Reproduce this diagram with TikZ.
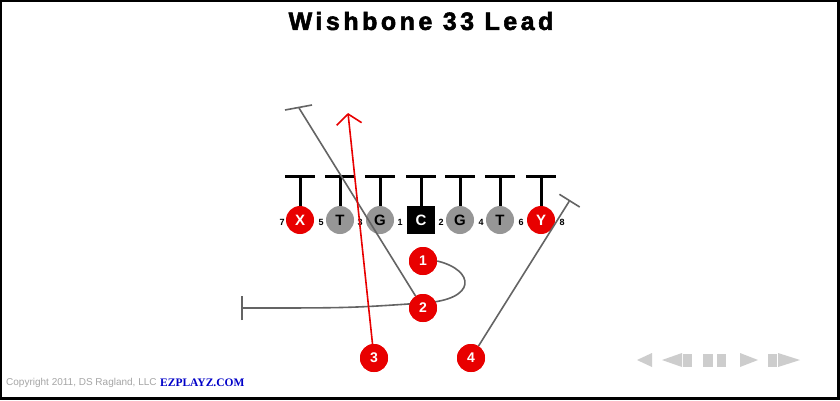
\documentclass[tikz,border=0pt]{standalone}
\usepackage{fontspec}
\setmainfont{Liberation Sans}
\newfontfamily\titlefont[LetterSpace=14,FakeBold=2.2]{Liberation Sans}
\newfontfamily\serifbold{Liberation Serif}
\usepackage{tikz}
\usetikzlibrary{positioning,arrows.meta}

\definecolor{playred}{RGB}{232,0,0}
\definecolor{linegray}{RGB}{150,150,150}
\definecolor{routegray}{RGB}{100,100,100}
\definecolor{iconfill}{RGB}{205,205,205}
\definecolor{copygray}{RGB}{165,165,165}
\definecolor{siteblue}{RGB}{0,0,200}

\tikzset{
  lineman/.style={circle, fill=linegray, minimum size=28pt, inner sep=0pt, font=\fontsize{15}{15}\selectfont\bfseries},
  receiver/.style={circle, fill=playred, text=white, minimum size=28pt, inner sep=0pt, font=\fontsize{15}{15}\selectfont\bfseries},
  center/.style={rectangle, fill=black, text=white, minimum size=28pt, inner sep=0pt, font=\fontsize{15}{15}\selectfont\bfseries},
  back/.style={circle, fill=playred, text=white, minimum size=28pt, inner sep=0pt, font=\fontsize{14}{14}\selectfont\bfseries},
  gapnum/.style={font=\fontsize{9}{9}\selectfont\bfseries, inner sep=0pt},
  blockline/.style={line width=3pt, -{Bar[width=30pt,line width=3pt]}},
  graybuild/.style={routegray, line width=1.6pt, -{Bar[width=24pt,line width=1.6pt]}},
  grayplain/.style={routegray, line width=1.6pt},
  redroute/.style={playred, line width=1.6pt, -{Straight Barb[length=10pt,width=25pt,line width=1.6pt]}},
  icon/.style={fill=iconfill, draw=none}
}

\begin{document}
\begin{tikzpicture}[x=1pt,y=-1pt]
  \useasboundingbox (0,0) rectangle (840,400);
  % frame
  \fill[black] (0,0) rectangle (840,400);
  \fill[white] (2,2) rectangle (837,397);

  % title
  \node (title) at (421,21) {\titlefont\fontsize{25}{25}\selectfont\bfseries Wishbone 33 Lead};

  % block ends
  \coordinate (kX) at (300,175);
  \coordinate (kLT) at (340,175);
  \coordinate (kLG) at (380,175);
  \coordinate (kC) at (421,175);
  \coordinate (kRG) at (460,175);
  \coordinate (kRT) at (500,175);
  \coordinate (kY) at (541,175);
  \coordinate (leadEnd) at (299,108);
  \coordinate (leadBarL) at (285,110);
  \coordinate (leadBarR) at (312,105);
  \coordinate (kickEnd) at (241,308);
  \coordinate (loopEnd) at (570,200);
  \coordinate (diveEnd) at (348,113);

  % players
  \node[receiver] (pX) at (300,220) {X};
  \node[lineman] (pLT) at (340,220) {T};
  \node[lineman] (pLG) at (380,220) {G};
  \node[center] (pC) at (421,220) {C};
  \node[lineman] (pRG) at (460,220) {G};
  \node[lineman] (pRT) at (500,220) {T};
  \node[receiver] (pY) at (541,220) {Y};

  \node[back] (b1) at (423,261) {1};
  \node[back] (b2) at (423,308) {2};
  \node[back] (b3) at (374,358) {3};
  \node[back] (b4) at (471,358) {4};

  % hole numbers
  \node[gapnum] (h7) at (282,222) {7};
  \node[gapnum] (h5) at (321,222) {5};
  \node[gapnum] (h3) at (360,222) {3};
  \node[gapnum] (h1) at (400,222) {1};
  \node[gapnum] (h2) at (441,222) {2};
  \node[gapnum] (h4) at (481,222) {4};
  \node[gapnum] (h6) at (521,222) {6};
  \node[gapnum] (h8) at (562,222) {8};

  % blocks
  \draw[blockline] (pX) -- (kX);
  \draw[blockline] (pLT) -- (kLT);
  \draw[blockline] (pLG) -- (kLG);
  \draw[blockline] (pC) -- (kC);
  \draw[blockline] (pRG) -- (kRG);
  \draw[blockline] (pRT) -- (kRT);
  \draw[blockline] (pY) -- (kY);

  % routes
  \draw[grayplain] (b2) -- (leadEnd);
  \draw[grayplain] (leadBarL) -- (leadBarR);
  \draw[graybuild] (b1.east) .. controls (475,270) and (478,300) .. (423,303)
        .. controls (350,308) .. (kickEnd);
  \draw[graybuild] (b4) -- (loopEnd);
  \draw[redroute] (b3) -- (diveEnd);

  % redraw backs on top of routes
  \node[back] at (b1) {1};
  \node[back] at (b2) {2};
  \node[back] at (b3) {3};
  \node[back] at (b4) {4};

  % footer
  \node[anchor=west, text=copygray, font=\fontsize{10}{10}\selectfont, inner sep=0pt] (copy) at (6,383) {Copyright 2011, DS Ragland, LLC};
  \node[anchor=west, text=siteblue, font=\serifbold\fontsize{11.5}{11.5}\selectfont\bfseries, inner sep=0pt] (site) at (160,383) {EZPLAYZ.COM};

  % player controls
  \fill[icon] (637,360) -- (652,353) -- (652,367) -- cycle;
  \fill[icon] (662,360) -- (682,353) -- (682,367) -- cycle;
  \fill[icon] (683,354) rectangle (692,367);
  \fill[icon] (703,354) rectangle (713,367);
  \fill[icon] (717,354) rectangle (726,367);
  \fill[icon] (758,360) -- (740,353) -- (740,367) -- cycle;
  \fill[icon] (768,354) rectangle (777,367);
  \fill[icon] (800,360) -- (778,353) -- (778,367) -- cycle;
\end{tikzpicture}
\end{document}
